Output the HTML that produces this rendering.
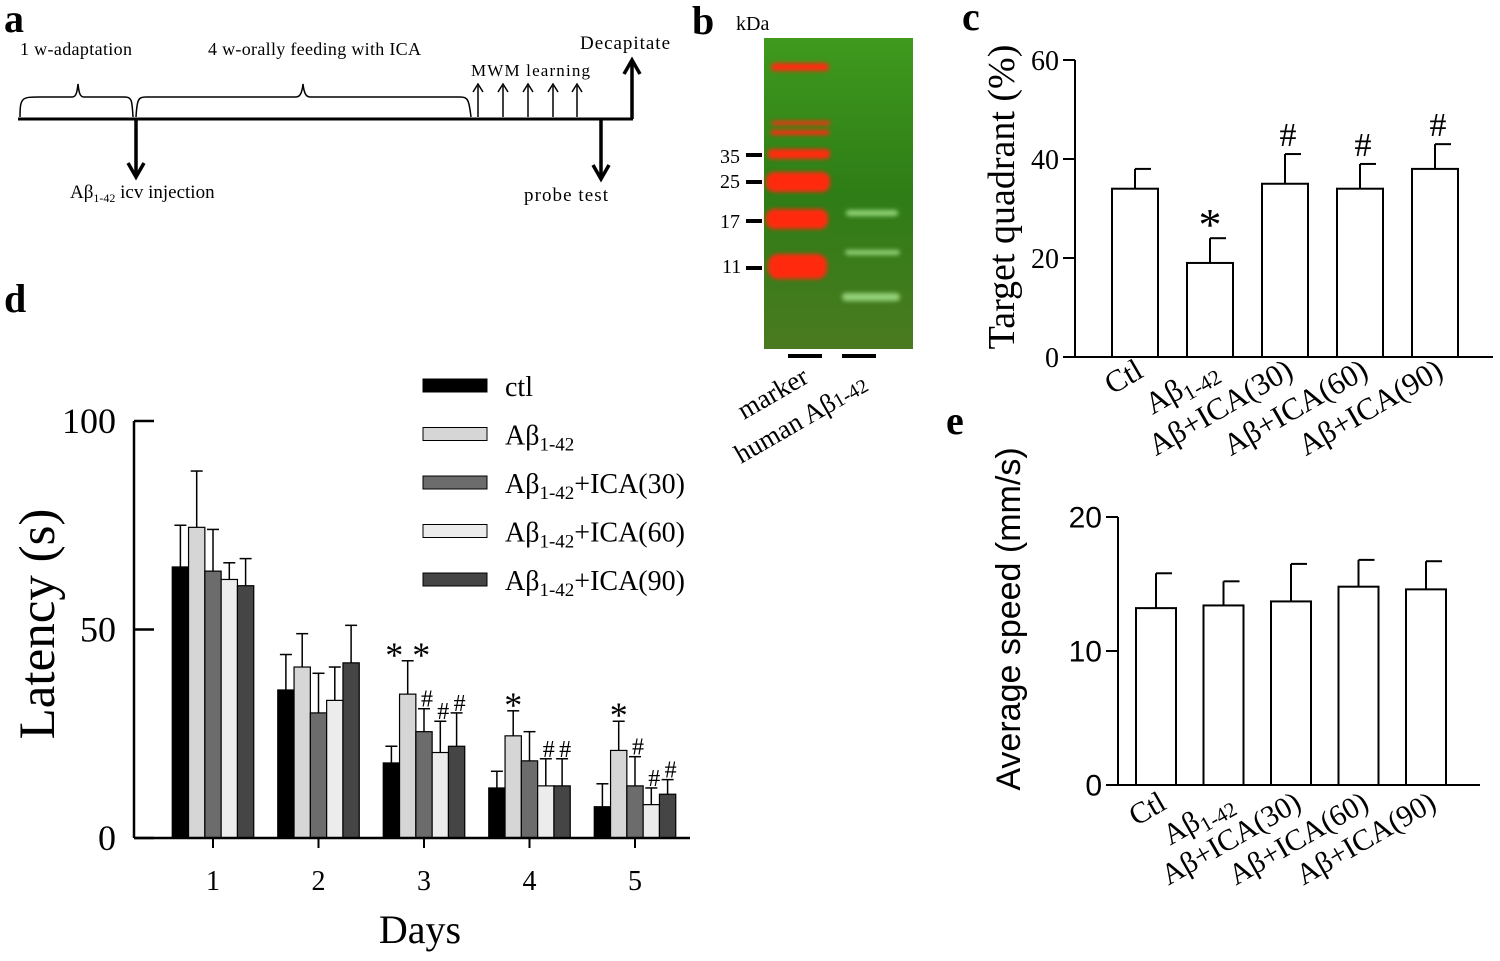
<!DOCTYPE html>
<html><head><meta charset="utf-8"><style>
html,body{margin:0;padding:0;background:#fff;}
svg{display:block;font-family:"Liberation Serif",serif;}
</style></head><body>
<svg id="fig" width="1500" height="961" viewBox="0 0 1500 961" xmlns="http://www.w3.org/2000/svg">
<defs>
<filter id="blur2"><feGaussianBlur stdDeviation="2"/></filter>
<linearGradient id="gel" x1="0" y1="0" x2="0" y2="1"><stop offset="0" stop-color="#3f9a1e"/><stop offset="0.5" stop-color="#2e7d16"/><stop offset="1" stop-color="#4a7a20"/></linearGradient>
</defs>
<text x="4" y="32" font-size="40" font-weight="bold">a</text>
<text x="692" y="34" font-size="40" font-weight="bold">b</text>
<text x="962" y="30" font-size="40" font-weight="bold">c</text>
<text x="4" y="312" font-size="40" font-weight="bold">d</text>
<text x="946" y="434" font-size="40" font-weight="bold">e</text>

<g fill="none" stroke="#000">
<line x1="18" y1="119" x2="633" y2="119" stroke-width="3"/>
<path d="M20,117 C20,97 22,97 40,97 L72,97 C76,97 77,93 78,84 C79,93 80,97 84,97 L124,97 C132,97 132,100 133,117" stroke-width="1.5"/>
<path d="M136,117 C137,100 138,97 146,97 L296,97 C300,97 302,93 303,84 C304,93 306,97 310,97 L460,97 C468,97 469,100 471,117" stroke-width="1.5"/>
<g stroke-width="1.5">
<line x1="478" y1="117" x2="478" y2="86"/><path d="M473,92 L478,84 L483,92"/>
<line x1="503" y1="117" x2="503" y2="86"/><path d="M498,92 L503,84 L508,92"/>
<line x1="528" y1="117" x2="528" y2="86"/><path d="M523,92 L528,84 L533,92"/>
<line x1="553" y1="117" x2="553" y2="86"/><path d="M548,92 L553,84 L558,92"/>
<line x1="577" y1="117" x2="577" y2="86"/><path d="M572,92 L577,84 L582,92"/>
</g>
<line x1="632" y1="119" x2="632" y2="62" stroke-width="3.5"/><path d="M624,74 L632,60 L640,74" stroke-width="3.5"/>
<line x1="136" y1="119" x2="136" y2="174" stroke-width="3.5"/><path d="M128,163 L136,177 L144,163" stroke-width="3.5"/>
<line x1="601" y1="119" x2="601" y2="176" stroke-width="3.5"/><path d="M593,165 L601,179 L609,165" stroke-width="3.5"/>
</g>
<g font-size="18">
<text x="20" y="55" textLength="112">1 w-adaptation</text>
<text x="208" y="55" textLength="213">4 w-orally  feeding with ICA</text>
<text x="471" y="76" font-size="17" textLength="119">MWM  learning</text>
<text x="580" y="49" font-size="19" textLength="90">Decapitate</text>
<text x="70" y="198" font-size="19">Aβ<tspan font-size="12" dy="4">1-42</tspan><tspan dy="-4"> icv injection</tspan></text>
<text x="524" y="201" font-size="19" textLength="84">probe test</text>
</g>

<g>
<rect x="764" y="38" width="149" height="311" fill="url(#gel)"/>
<g fill="#ff2a10" filter="url(#blur2)">
<rect x="771" y="63" width="58" height="8" rx="4"/>
<rect x="772" y="121" width="58" height="4"/>
<rect x="771" y="130" width="58" height="5"/>
<rect x="768" y="149" width="62" height="10" rx="4"/>
<rect x="766" y="172" width="64" height="20" rx="8"/>
<rect x="766" y="209" width="62" height="20" rx="8"/>
<rect x="768" y="254" width="59" height="25" rx="10"/>
</g>
<g fill="#b8f5a0" filter="url(#blur2)" opacity="0.7">
<rect x="846" y="210" width="52" height="6" rx="3"/>
<rect x="845" y="250" width="55" height="5" rx="3"/>
<rect x="842" y="293" width="58" height="8" rx="4"/>
</g>
<g font-size="20">
<text x="720" y="163">35</text><text x="720" y="188">25</text><text x="720" y="228">17</text><text x="722" y="273">11</text>
<text x="736" y="30">kDa</text>
</g>
<g fill="#000"><rect x="746" y="153" width="16" height="4"/><rect x="746" y="180" width="16" height="4"/><rect x="746" y="219" width="16" height="4"/><rect x="746" y="266" width="16" height="4"/>
<rect x="788" y="354" width="34" height="4"/><rect x="842" y="354" width="34" height="4"/></g>
<text transform="translate(744,420) rotate(-30)" font-size="27">marker</text>
<text transform="translate(741,464) rotate(-30)" font-size="27">human Aβ<tspan font-size="20">1-42</tspan></text>
</g>

<g id="chartC"></g>
<g id="chartD"></g>
<g id="chartE"></g>
</svg>
<script>
const dDays = ['1','2','3','4','5'];
const dSeries = ['ctl','Aβ1-42','Aβ1-42+ICA(30)','Aβ1-42+ICA(60)','Aβ1-42+ICA(90)'];
const dCtl = [65, 35.5, 18, 12, 7.5];
const dAb = [74.5, 41, 34.5, 24.5, 21];
const dIca30 = [64, 30, 25.5, 18.5, 12.5];
const dIca60 = [62, 33, 20.5, 12.5, 8];
const dIca90 = [60.5, 42, 22, 12.5, 10.5];
const dCtlErr = [10, 8.5, 4, 4, 5.5];
const dAbErr = [13.5, 8, 8, 6, 7];
const dIca30Err = [10, 9.5, 5.5, 7, 7];
const dIca60Err = [4, 8, 7.5, 6.5, 4];
const dIca90Err = [6.5, 9, 8, 6.5, 3.5];
const dMarks = [['','','','',''],['','','','',''],['','**','#','#','#'],['','*','','#','#'],['','*','#','#','#']];
const dTicks = [0, 50, 100];

const cCats = ['Ctl','Aβ1-42','Aβ+ICA(30)','Aβ+ICA(60)','Aβ+ICA(90)'];
const cVals = [34, 19, 35, 34, 38];
const cErr = [4, 5, 6, 5, 5];
const cMarks = ['', '*', '#', '#', '#'];
const cTicks = [0, 20, 40, 60];

const eCats = ['Ctl','Aβ1-42','Aβ+ICA(30)','Aβ+ICA(60)','Aβ+ICA(90)'];
const eVals = [13.2, 13.4, 13.7, 14.8, 14.6];
const eErr = [2.6, 1.8, 2.8, 2.0, 2.1];
const eTicks = [0, 10, 20];

const NS = 'http://www.w3.org/2000/svg';
function mk(parent, tag, attrs, txt){
  const el = document.createElementNS(NS, tag);
  for (const k in attrs) el.setAttribute(k, attrs[k]);
  if (txt !== undefined) el.textContent = txt;
  parent.appendChild(el); return el;
}
function labelAb(el, s, sub){
  const i = s.indexOf('1-42');
  if (i < 0) { el.textContent = s; return; }
  mk(el, 'tspan', {}, s.slice(0, i));
  mk(el, 'tspan', {'font-size': sub, dy: 6}, '1-42');
  if (s.length > i + 4) mk(el, 'tspan', {dy: -6}, s.slice(i + 4));
}

(function(){
  const g = document.getElementById('chartD');
  const x0 = 134, y0 = 838, yTop = 421, xEnd = 690;
  const ys = v => y0 - (v / 100) * (y0 - yTop);
  const dayX = i => 213 + i * 105.5;
  const bw = 16.3;
  const vals = [dCtl, dAb, dIca30, dIca60, dIca90];
  const errs = [dCtlErr, dAbErr, dIca30Err, dIca60Err, dIca90Err];
  const fills = ['#000', '#d6d6d6', '#6c6c6c', '#ececec', '#454545'];
  for (let d = 0; d < dDays.length; d++) {
    for (let s = 0; s < 5; s++) {
      const x = dayX(d) - 2.5 * bw + s * bw;
      const v = vals[s][d], e = errs[s][d];
      const eb = mk(g, 'line', {x1: x + bw / 2, x2: x + bw / 2, y1: ys(v), y2: ys(v + e), stroke: '#000', 'stroke-width': 1.5});
      
      
      mk(g, 'line', {x1: x + bw / 2 - 6, x2: x + bw / 2 + 6, y1: ys(v + e), y2: ys(v + e), stroke: '#000', 'stroke-width': 1.5});
      const r = mk(g, 'rect', {x: x, y: ys(v), width: bw, height: y0 - ys(v), fill: fills[s], stroke: '#000', 'stroke-width': 1.2});
      
      
      const m = dMarks[d][s];
      if (m) {
        const star = m.indexOf('*') >= 0;
        const t = mk(g, 'text', {x: x + bw / 2 + (star ? 0 : 3), y: ys(v + e) + (star ? 6 : -2), 'font-size': star ? 36 : 24, 'text-anchor': 'middle'}, m === '**' ? '* *' : m);
        
        
      }
    }
    mk(g, 'line', {x1: dayX(d), x2: dayX(d), y1: y0, y2: y0 + 10, stroke: '#000', 'stroke-width': 2});
    const tl = mk(g, 'text', {x: dayX(d), y: y0 + 52, 'font-size': 28, 'text-anchor': 'middle'}, dDays[d]);
    
    
  }
  mk(g, 'line', {x1: x0, x2: xEnd, y1: y0, y2: y0, stroke: '#000', 'stroke-width': 2.5});
  mk(g, 'line', {x1: x0, x2: x0, y1: y0, y2: yTop, stroke: '#000', 'stroke-width': 2.5});
  dTicks.forEach(t => {
    mk(g, 'line', {x1: x0, x2: x0 + 20, y1: ys(t), y2: ys(t), stroke: '#000', 'stroke-width': 2.5});
    const tl = mk(g, 'text', {x: x0 - 18, y: ys(t) + 12, 'font-size': 36, 'text-anchor': 'end'}, t);
    
    
  });
  const yt = mk(g, 'text', {transform: 'translate(54,624) rotate(-90)', 'font-size': 51, 'text-anchor': 'middle'}, 'Latency (s)');
  
  
  const xt = mk(g, 'text', {x: 420, y: 943, 'font-size': 40, 'text-anchor': 'middle'}, 'Days');
  
  
  dSeries.forEach((s, i) => {
    const ly = 386 + i * 48.5;
    const lr = mk(g, 'rect', {x: 423, y: ly - 7, width: 64, height: 13, fill: fills[i], stroke: '#000', 'stroke-width': 1});
    
    
    const lt = mk(g, 'text', {x: 505, y: ly + 10, 'font-size': 28});
    
    
    labelAb(lt, s, 19);
  });
})();

function barChart(id, cats, vals, errs, marks, ticks, o){
  const g = document.getElementById(id);
  const ys = v => o.y0 - (v / o.max) * (o.y0 - o.yTop);
  for (let i = 0; i < cats.length; i++) {
    const cx = o.cx0 + i * o.step;
    const v = vals[i], e = errs[i];
    mk(g, 'line', {x1: cx, x2: cx, y1: ys(v), y2: ys(v + e), stroke: '#000', 'stroke-width': 2});
    mk(g, 'line', {x1: cx, x2: cx + 16, y1: ys(v + e), y2: ys(v + e), stroke: '#000', 'stroke-width': 2});
    const r = mk(g, 'rect', {x: cx - o.bw / 2, y: ys(v), width: o.bw, height: o.y0 - ys(v), fill: '#fff', stroke: '#000', 'stroke-width': 2});
    
    
    if (marks && marks[i]) {
      const m = marks[i];
      const t = mk(g, 'text', {x: cx + (m === '#' ? 3 : 0), y: ys(v + e) + (m === '*' ? 2 : -8), 'font-size': m === '*' ? 46 : 34, 'text-anchor': 'middle'}, m);
      
      
    }
    const lt = mk(g, 'text', {transform: 'translate(' + (cx + o.lx) + ',' + o.ly + ') rotate(-30)', 'font-size': o.lfs, 'text-anchor': 'end'});
    
    
    labelAb(lt, cats[i], o.lfs * 0.7);
  }
  mk(g, 'line', {x1: o.x0, x2: o.xEnd, y1: o.y0, y2: o.y0, stroke: '#000', 'stroke-width': 2});
  mk(g, 'line', {x1: o.x0, x2: o.x0, y1: o.y0, y2: o.yTop, stroke: '#000', 'stroke-width': 2});
  ticks.forEach(t => {
    mk(g, 'line', {x1: o.x0 - 12, x2: o.x0, y1: ys(t), y2: ys(t), stroke: '#000', 'stroke-width': 2});
    const tl = mk(g, 'text', {x: o.x0 - 16, y: ys(t) + o.tfs * 0.35, 'font-size': o.tfs, 'text-anchor': 'end', 'font-family': o.tfont}, t);
    
    
  });
  const yt = mk(g, 'text', {transform: 'translate(' + o.tx + ',' + o.ty + ') rotate(-90)', 'font-size': o.titleFs, 'text-anchor': 'middle', 'font-family': o.tfont}, o.title);
  
  
}
barChart('chartC', cCats, cVals, cErr, cMarks, cTicks, {
  x0: 1075, xEnd: 1493, y0: 357, yTop: 60, max: 60, cx0: 1135, step: 75, bw: 46,
  lx: 10, ly: 376, lfs: 31, tfs: 28, tfont: '"Liberation Serif",serif',
  title: 'Target quadrant (%)', titleFs: 38, tx: 1014, ty: 197
});
barChart('chartE', eCats, eVals, eErr, null, eTicks, {
  x0: 1118, xEnd: 1480, y0: 785, yTop: 517, max: 20, cx0: 1156, step: 67.5, bw: 40,
  lx: 12, ly: 808, lfs: 30, tfs: 30, tfont: '"Liberation Sans",sans-serif',
  title: 'Average speed (mm/s)', titleFs: 34, tx: 1020, ty: 619
});
</script>
</body></html>
